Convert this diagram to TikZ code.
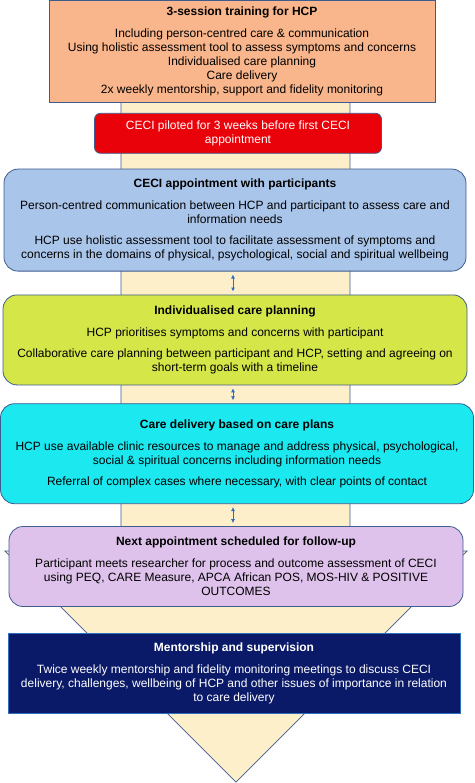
\documentclass[tikz,border=0pt]{standalone}
\usepackage{fontspec}
\setmainfont{Liberation Sans}
\usetikzlibrary{positioning,arrows.meta}

\definecolor{edgeblue}{RGB}{62,92,142}
\definecolor{trainfill}{RGB}{249,181,139}
\definecolor{pilotfill}{RGB}{234,2,10}
\definecolor{apptfill}{RGB}{170,197,234}
\definecolor{planfill}{RGB}{212,230,72}
\definecolor{deliverfill}{RGB}{28,232,240}
\definecolor{followfill}{RGB}{222,194,236}
\definecolor{mentorfill}{RGB}{10,26,104}
\definecolor{arrowfill}{RGB}{253,239,201}
\definecolor{tipblue}{RGB}{46,110,190}

\tikzset{
    stage/.style={draw=edgeblue, line width=0.8pt, align=center, inner sep=2pt,
        font=\fontsize{12}{14}\selectfont, text=black},
    roundstage/.style={stage, rounded corners=14pt},
    biarrow/.style={tipblue, line width=0.7pt, {Latex[length=4pt,width=4pt]}-{Latex[length=4pt,width=4pt]},
        shorten <=3pt, shorten >=3pt}
}

\begin{document}
\begin{tikzpicture}[x=1pt, y=-1pt, node distance=15pt]
    \useasboundingbox (0,0) rectangle (474,783);
    % big arrow behind the stages
    \draw[draw=edgeblue, line width=0.7pt, fill=arrowfill]
        (121,90) -- (121,551) -- (5,551) -- (236,782) -- (467,551) -- (350,551) -- (350,90);

    \node[stage, fill=trainfill, minimum width=386pt, minimum height=102pt] (train) at (242,51.5)
        {\textbf{3-session training for HCP}\\[8pt]
         Including person-centred care \& communication\\
         Using holistic assessment tool to assess symptoms and concerns\\
         Individualised care planning\\
         Care delivery\\
         2x weekly mentorship, support and fidelity monitoring};
    \node[stage, rounded corners=6pt, fill=pilotfill, text=white, minimum width=287pt, minimum height=40pt,
        below=10pt of train, xshift=-4pt] (pilot)
        {CECI piloted for 3 weeks before first CECI\\appointment};
    \node[roundstage, fill=apptfill, minimum width=462pt, minimum height=102pt,
        below=15pt of pilot, xshift=-3pt] (appt)
        {\textbf{CECI appointment with participants}\\[8pt]
         Person-centred communication between HCP and participant to assess care and\\
         information needs\\[7pt]
         HCP use holistic assessment tool to facilitate assessment of symptoms and\\
         concerns in the domains of physical, psychological, social and spiritual wellbeing};
    \node[roundstage, fill=planfill, minimum width=464pt, minimum height=90pt,
        below=23pt of appt] (plan)
        {\textbf{Individualised care planning}\\[8pt]
         HCP prioritises symptoms and concerns with participant\\[7pt]
         Collaborative care planning between participant and HCP, setting and agreeing on\\
         short-term goals with a timeline};
    \node[roundstage, fill=deliverfill, minimum width=473pt, minimum height=100pt,
        below=18pt of plan, xshift=2pt] (deliver)
        {\textbf{Care delivery based on care plans}\\[8pt]
         HCP use available clinic resources to manage and address physical, psychological,\\
         social \& spiritual concerns including information needs\\[7pt]
         Referral of complex cases where necessary, with clear points of contact};
    \node[roundstage, fill=followfill, minimum width=454pt, minimum height=80pt,
        below=22pt of deliver, xshift=-1pt] (followup)
        {\textbf{Next appointment scheduled for follow-up}\\[8pt]
         Participant meets researcher for process and outcome assessment of CECI\\
         using PEQ, CARE Measure, APCA African POS, MOS-HIV \& POSITIVE\\
         OUTCOMES};
    \node[stage, draw=tipblue, fill=mentorfill, text=white, minimum width=452pt, minimum height=80pt,
        below=26pt of followup, xshift=-2pt] (mentor)
        {\textbf{Mentorship and supervision}\\[8pt]
         Twice weekly mentorship and fidelity monitoring meetings to discuss CECI\\
         delivery, challenges, wellbeing of HCP and other issues of importance in relation\\
         to care delivery};

    \draw[biarrow] ([xshift=-2pt]appt.south) -- ([xshift=-2pt]plan.north);
    \draw[biarrow] ([xshift=-2pt]plan.south) -- ([xshift=-4pt]deliver.north);
    \draw[biarrow] ([xshift=-4pt]deliver.south) -- ([xshift=-3pt]followup.north);
\end{tikzpicture}
\end{document}
